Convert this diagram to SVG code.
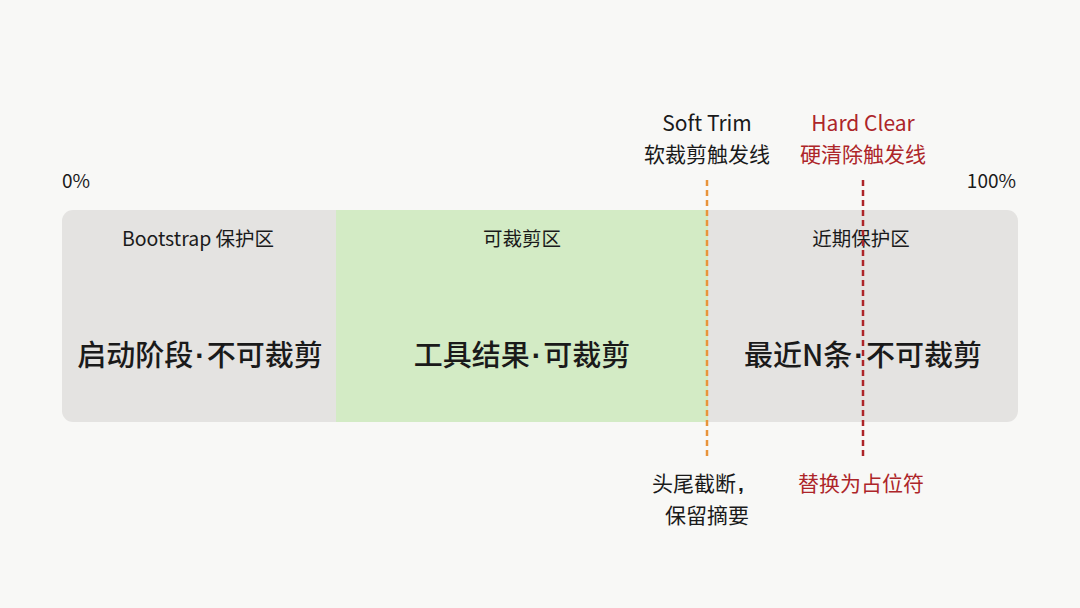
<svg xmlns="http://www.w3.org/2000/svg" width="1080" height="608" viewBox="0 0 1080 608">
<defs>
<style>
text{font-family:"Noto Sans CJK SC","Noto Sans",sans-serif;fill:#1a1a1a}
.s{font-size:19.5px}
.b{font-size:29px;font-weight:500}
.m{font-size:21px}
.l{font-size:19px}
.r{fill:#ad2529}
.dot{font-family:"Liberation Sans",sans-serif;font-weight:700}
.gray{fill:#e4e3e1}
.green{fill:#d3ebc5}
</style>
<clipPath id="bar"><rect x="62" y="210" width="956" height="212" rx="11"/></clipPath>
</defs>
<rect width="1080" height="608" fill="#f8f8f6"/>
<g clip-path="url(#bar)">
<g id="bootstrap"><rect class="gray" x="62" y="210" width="274" height="212"/></g>
<g id="trimmable"><rect class="green" x="336" y="210" width="372" height="212"/></g>
<g id="recent"><rect class="gray" x="708" y="210" width="310" height="212"/></g>
</g>
<text class="s" x="198" y="246" text-anchor="middle">Bootstrap 保护区</text>
<text class="b" x="200" y="366" text-anchor="middle">启动阶段<tspan class="dot" dx="2">·</tspan><tspan dx="2">不可裁剪</tspan></text>
<text class="s" x="522" y="246" text-anchor="middle">可裁剪区</text>
<text class="b" x="522" y="366" text-anchor="middle">工具结果<tspan class="dot" dx="2">·</tspan><tspan dx="2">可裁剪</tspan></text>
<text class="s" x="861" y="246" text-anchor="middle">近期保护区</text>
<text class="b" x="863" y="366" text-anchor="middle">最近N条<tspan class="dot" dx="2">·</tspan><tspan dx="2">不可裁剪</tspan></text>
<text class="l" x="62" y="188">0%</text>
<text class="l" x="1016" y="188" text-anchor="end">100%</text>
<g id="connectors">
<line x1="707" y1="180" x2="707" y2="456" stroke="#e8943a" stroke-width="2.5" stroke-dasharray="6 4"/>
<line x1="863" y1="180" x2="863" y2="456" stroke="#ad2529" stroke-width="2.5" stroke-dasharray="6 4"/>
</g>
<g id="soft-trim">
<text class="m" x="707" y="131" text-anchor="middle">Soft Trim</text>
<text class="m" x="707" y="162" text-anchor="middle">软裁剪触发线</text>
<text class="m" x="652" y="491">头尾截断<tspan class="dot" dx="2">,</tspan></text>
<text class="m" x="665" y="523">保留摘要</text>
</g>
<g id="hard-clear">
<text class="m r" x="863" y="131" text-anchor="middle">Hard Clear</text>
<text class="m r" x="863" y="162" text-anchor="middle">硬清除触发线</text>
<text class="m r" x="861" y="491" text-anchor="middle">替换为占位符</text>
</g>
</svg>
